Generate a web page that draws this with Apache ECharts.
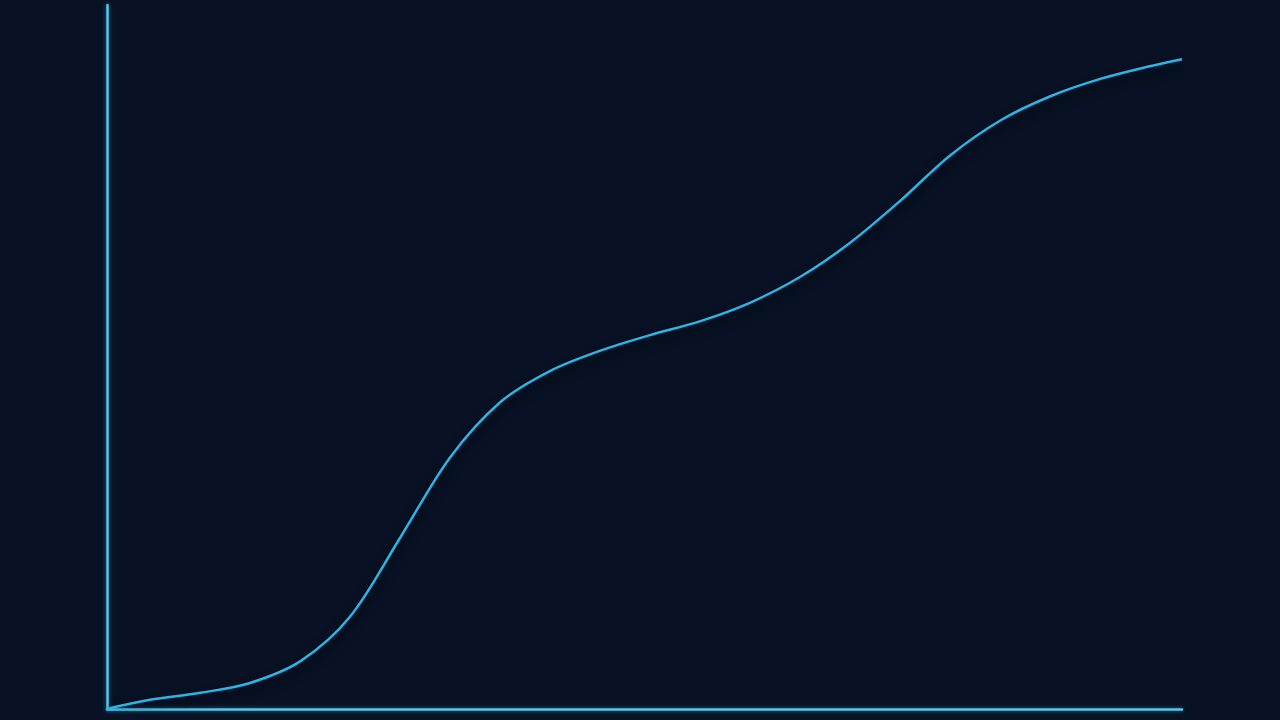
<!DOCTYPE html>
<html>
<head>
<meta charset="UTF-8">
<title>curve</title>
<style>
  html, body { margin: 0; padding: 0; background: #081224; }
  #main { width: 1280px; height: 720px; }
</style>
<script src="https://cdn.jsdelivr.net/npm/echarts@6/dist/echarts.min.js"></script>
</head>
<body>
<div id="main"></div>
<script>
// x positions (0-100) and values (0-100)
var xs = [0, 4.0, 8.7, 13.3, 18.0, 22.6, 27.3, 31.9, 36.6, 41.2, 45.9, 50.5, 55.2, 59.8, 64.5, 69.1, 73.8, 78.4, 83.1, 87.7, 92.4, 97.0, 100];
var ys = [0, 1.3, 2.3, 3.7, 6.8, 13.1, 24.4, 35.7, 43.6, 48.0, 50.9, 53.1, 55.1, 57.7, 61.4, 66.2, 72.2, 78.6, 83.6, 87.0, 89.5, 91.3, 92.3];

var points = [];
for (var i = 0; i < xs.length; i++) {
    points.push([xs[i], ys[i]]);
}

var myChart = echarts.init(document.getElementById('main'));
var axisStyle = {
    show: true,
    onZero: false,
    lineStyle: {
        color: '#55c9ee',
        width: 2.5,
        shadowColor: 'rgba(60, 190, 240, 0.5)',
        shadowBlur: 4
    }
};
var option = {
    backgroundColor: '#081224',
    animation: false,
    grid: { left: 107, right: 98, top: 5, bottom: 11 },
    xAxis: {
        type: 'value', min: 0, max: 100,
        axisLine: axisStyle,
        axisTick: { show: false },
        axisLabel: { show: false },
        splitLine: { show: false }
    },
    yAxis: {
        type: 'value', min: 0, max: 100,
        axisLine: axisStyle,
        axisTick: { show: false },
        axisLabel: { show: false },
        splitLine: { show: false }
    },
    series: [{
        type: 'line',
        data: points,
        smooth: 0.33,
        symbol: 'none',
        lineStyle: {
            color: '#2db4e6',
            width: 2.5,
            shadowColor: 'rgba(0, 0, 0, 0.8)',
            shadowBlur: 12,
            shadowOffsetY: 6
        }
    }]
};
myChart.setOption(option);
</script>
</body>
</html>
